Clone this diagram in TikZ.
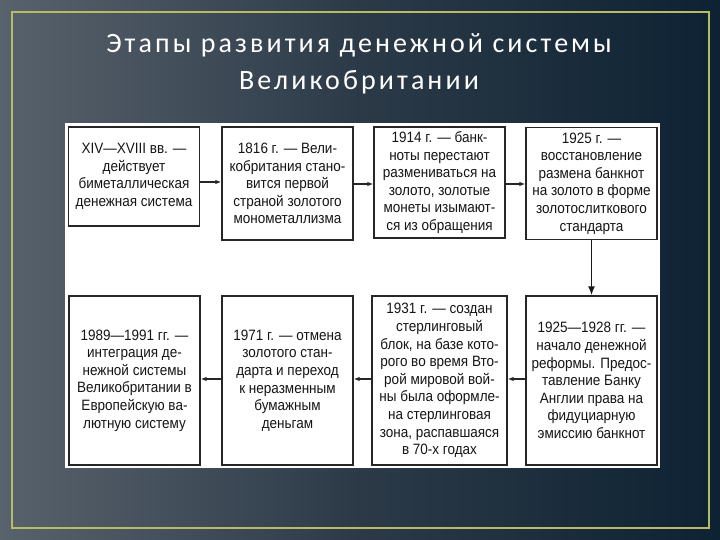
\documentclass[tikz,border=0pt]{standalone}
\usepackage{fontspec}
\setmainfont[FakeStretch=0.9]{Liberation Sans}
\newfontfamily\titlefont[LetterSpace=11]{Carlito}
\usetikzlibrary{arrows.meta}
\definecolor{bgL}{HTML}{58626C}
\definecolor{bgM}{HTML}{2C3A48}
\definecolor{bgR}{HTML}{0D2233}
\definecolor{frameC}{HTML}{B8BA64}
\definecolor{txt}{HTML}{151515}
\tikzset{
  stage/.style={draw=black!85, line width=1.3pt, fill=white, text=txt,
    minimum width=131pt, inner sep=0pt, align=center,
    font=\fontsize{15}{17.6}\selectfont},
  arr/.style={draw=black!85, line width=1.2pt, -{Latex[length=6pt,width=4.5pt]}},
  bigarr/.style={draw=black!90, line width=1.6pt, -{Latex[length=9pt,width=7pt]}},
}
\begin{document}
\begin{tikzpicture}[x=1pt,y=-1pt]
\useasboundingbox (0,0) rectangle (720,540);
\shade[left color=bgL, right color=bgR, middle color=bgM] (0,0) rectangle (720,540);
\draw[frameC, line width=1.5pt] (12,12) rectangle (709,528);
\node[text=white, font=\titlefont\fontsize{28}{37}\selectfont, align=center] (title) at (359,64)
  {Этапы развития денежной системы\\Великобритании};
\fill[white] (65,123) rectangle (660,468);
% top row
\node[stage, minimum height=99pt] (b1) at (134,176.5)
  {XIV---XVIII вв. ---\\действует\\биметаллическая\\денежная система};
\node[stage, minimum height=113pt] (b2) at (287.5,183.5)
  {1816 г. --- Вели-\\кобритания стано-\\вится первой\\страной золотого\\монометаллизма};
\node[stage, minimum height=111pt] (b3) at (439.5,182.5)
  {1914 г. --- банк-\\ноты перестают\\размениваться на\\золото, золотые\\монеты изымают-\\ся из обращения};
\node[stage, minimum height=112pt] (b4) at (591.5,183.5)
  {1925 г. ---\\восстановление\\размена банкнот\\на золото в форме\\золотослиткового\\стандарта};
% bottom row
\node[stage, minimum height=169pt] (b8) at (134.5,380.5)
  {1989---1991 гг. ---\\интеграция де-\\нежной системы\\Великобритании в\\Европейскую ва-\\лютную систему};
\node[stage, minimum height=169pt] (b7) at (287.5,380.5)
  {1971 г. --- отмена\\золотого стан-\\дарта и переход\\к неразменным\\бумажным\\деньгам};
\node[stage, minimum height=169pt, minimum width=135pt] (b6) at (439.5,380.5)
  {1931 г. --- создан\\стерлинговый\\блок, на базе кото-\\рого во время Вто-\\рой мировой вой-\\ны была оформле-\\на стерлинговая\\зона, распавшаяся\\в 70-х годах};
\node[stage, minimum height=169pt] (b5) at (591.5,380.5)
  {1925---1928 гг. ---\\начало денежной\\реформы. Предос-\\тавление Банку\\Англии права на\\фидуциарную\\эмиссию банкнот};
% connectors
\draw[arr] (b1.east |- 0,182) -- (b2.west |- 0,182);
\draw[arr] (b2.east |- 0,184) -- (b3.west |- 0,184);
\draw[arr] (b3.east |- 0,184) -- (b4.west |- 0,184);
\draw[bigarr] (b4.south) -- (b5.north);
\draw[arr] (b5.west |- 0,379) -- (b6.east |- 0,379);
\draw[arr] (b6.west |- 0,379) -- (b7.east |- 0,379);
\draw[arr] (b7.west |- 0,379) -- (b8.east |- 0,379);
\end{tikzpicture}
\end{document}
